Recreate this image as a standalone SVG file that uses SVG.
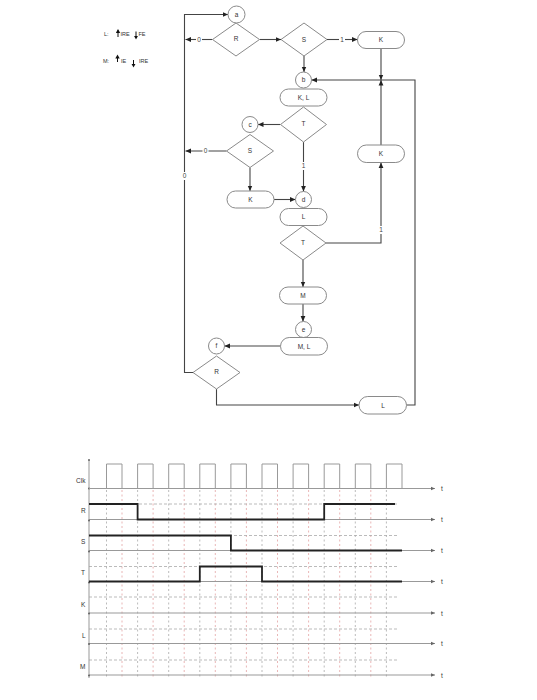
<svg xmlns="http://www.w3.org/2000/svg" width="537" height="700" viewBox="0 0 537 700">
<defs>
<marker id="ar" markerUnits="userSpaceOnUse" markerWidth="6" markerHeight="6" refX="5.5" refY="3" orient="auto"><path d="M0,0.6 L5.5,3 L0,5.4 z" fill="#222"/></marker>
<marker id="ax" markerUnits="userSpaceOnUse" markerWidth="5" markerHeight="5" refX="4" refY="2.5" orient="auto"><path d="M0,0.8 L4,2.5 L0,4.2 z" fill="#666"/></marker>
<marker id="la" markerUnits="userSpaceOnUse" markerWidth="5" markerHeight="5" refX="2.5" refY="2.5" orient="auto"><path d="M0,0.3 L4,2.5 L0,4.7 z" fill="#111"/></marker>
</defs>
<style>
.nd{fill:#fff;stroke:#8a8a8a;stroke-width:1}
.tx{font-family:"Liberation Sans",Arial,sans-serif;font-size:6.5px;fill:#333;text-anchor:middle}
.lg{font-family:"Liberation Sans",Arial,sans-serif;font-size:5.5px;fill:#333}
.cn{fill:none;stroke:#444;stroke-width:1.1}
.lb{font-family:"Liberation Sans",Arial,sans-serif;font-size:6.5px;fill:#444;text-anchor:middle}
.axis{fill:none;stroke:#999;stroke-width:1}
.clk{fill:none;stroke:#999;stroke-width:1}
.sig{fill:none;stroke:#222;stroke-width:1.8}
.hd{fill:none;stroke:#aaa;stroke-width:0.8;stroke-dasharray:3,2}
.vg{stroke:#aaa;stroke-width:0.8;stroke-dasharray:2,2.5}
.vr{stroke:#e3a3a3;stroke-width:0.8;stroke-dasharray:2,2.5}
.tl{font-family:"Liberation Sans",Arial,sans-serif;font-size:6.5px;fill:#333}
</style>
<rect width="537" height="700" fill="#fff"/>

<g id="legend">
<text class="lg" x="104" y="35.5">L:</text>
<line x1="118" y1="37" x2="118" y2="30.5" stroke="#111" stroke-width="1" marker-end="url(#la)"/>
<text class="lg" x="120.5" y="35.5">IRE</text>
<line x1="136" y1="31.5" x2="136" y2="38" stroke="#111" stroke-width="1" marker-end="url(#la)"/>
<text class="lg" x="138.5" y="35.5">FE</text>
<text class="lg" x="103" y="63">M:</text>
<line x1="117.5" y1="62" x2="117.5" y2="56" stroke="#111" stroke-width="1" marker-end="url(#la)"/>
<text class="lg" x="121" y="63">IE</text>
<line x1="133.5" y1="60" x2="133.5" y2="66" stroke="#111" stroke-width="1" marker-end="url(#la)"/>
<text class="lg" x="139" y="63">IRE</text>
</g>

<g id="connectors">
<path class="cn" d="M193,372.5 H184.5 V14.5 H228" marker-end="url(#ar)"/>
<path class="cn" d="M212.5,39.5 H185.5" marker-end="url(#ar)"/>
<path class="cn" d="M259.5,39.5 H281" marker-end="url(#ar)"/>
<path class="cn" d="M327,39.5 H357.5" marker-end="url(#ar)"/>
<path class="cn" d="M304,56 V72" marker-end="url(#ar)"/>
<path class="cn" d="M381,48.5 V80" marker-end="url(#ar)"/>
<path class="cn" d="M381,145 V80" marker-end="url(#ar)"/>
<path class="cn" d="M406.5,405 H415 V80 H311.5" marker-end="url(#ar)"/>
<path class="cn" d="M280.5,124.5 H258" marker-end="url(#ar)"/>
<path class="cn" d="M226.5,151 H185.5" marker-end="url(#ar)"/>
<path class="cn" d="M250,167.5 V191" marker-end="url(#ar)"/>
<path class="cn" d="M274,199.5 H295.5" marker-end="url(#ar)"/>
<path class="cn" d="M303.5,142 V191.5" marker-end="url(#ar)"/>
<path class="cn" d="M326,243 H381 V162.5" marker-end="url(#ar)"/>
<path class="cn" d="M303,260 V287" marker-end="url(#ar)"/>
<path class="cn" d="M303,304 V321.5" marker-end="url(#ar)"/>
<path class="cn" d="M280.5,346 H224.5" marker-end="url(#ar)"/>
<path class="cn" d="M216.5,389 V405 H359" marker-end="url(#ar)"/>
<rect x="196" y="36" width="6" height="7" fill="#fff"/>
<text class="lb" x="199" y="41.8">0</text>
<rect x="339" y="36" width="6" height="7" fill="#fff"/>
<text class="lb" x="342" y="41.8">1</text>
<rect x="202.5" y="147.5" width="6" height="7" fill="#fff"/>
<text class="lb" x="205.5" y="153.3">0</text>
<rect x="181.5" y="172" width="6" height="8" fill="#fff"/>
<text class="lb" x="184.5" y="178.3">0</text>
<rect x="300.5" y="162" width="6" height="8" fill="#fff"/>
<text class="lb" x="303.5" y="168.3">1</text>
<rect x="378" y="226" width="6" height="8" fill="#fff"/>
<text class="lb" x="381" y="232.3">1</text>
</g>

<g id="node-a"><circle class="nd" cx="236.5" cy="14.5" r="8.5"/><text class="tx" x="236.5" y="16.8">a</text></g>
<g id="node-R1"><polygon class="nd" points="212.5,39.5 236,23 259.5,39.5 236,56"/><text class="tx" x="236" y="41">R</text></g>
<g id="node-S1"><polygon class="nd" points="281,39.5 304,23 327,39.5 304,56"/><text class="tx" x="304" y="41.5">S</text></g>
<g id="node-K1"><rect class="nd" x="357.5" y="31.5" width="47" height="17" rx="8.5"/><text class="tx" x="381" y="42.3">K</text></g>
<g id="node-b"><circle class="nd" cx="303.5" cy="80" r="8"/><text class="tx" x="303.5" y="82.3">b</text></g>
<g id="node-KL"><rect class="nd" x="280" y="89" width="47" height="17" rx="8.5"/><text class="tx" x="303.5" y="99.8">K, L</text></g>
<g id="node-T1"><polygon class="nd" points="280.5,124.5 303.5,107 326.5,124.5 303.5,142"/><text class="tx" x="303.5" y="126">T</text></g>
<g id="node-c"><circle class="nd" cx="250" cy="124.5" r="8"/><text class="tx" x="250" y="126.8">c</text></g>
<g id="node-S2"><polygon class="nd" points="226.5,151 250,134.5 273.5,151 250,167.5"/><text class="tx" x="250" y="152.5">S</text></g>
<g id="node-K3"><rect class="nd" x="227" y="191" width="47" height="17" rx="8.5"/><text class="tx" x="250.5" y="201.8">K</text></g>
<g id="node-d"><circle class="nd" cx="303.5" cy="199.5" r="8"/><text class="tx" x="303.5" y="201.8">d</text></g>
<g id="node-L1"><rect class="nd" x="280" y="208.5" width="47" height="17" rx="8.5"/><text class="tx" x="303.5" y="219.3">L</text></g>
<g id="node-T2"><polygon class="nd" points="280,243 303,226 326,243 303,260"/><text class="tx" x="303" y="245">T</text></g>
<g id="node-K2"><rect class="nd" x="357.5" y="145" width="47" height="17.5" rx="8.75"/><text class="tx" x="381" y="156">K</text></g>
<g id="node-M"><rect class="nd" x="279.5" y="287" width="47" height="17" rx="8.5"/><text class="tx" x="303" y="297.8">M</text></g>
<g id="node-e"><circle class="nd" cx="303.5" cy="329.5" r="8"/><text class="tx" x="303.5" y="331.8">e</text></g>
<g id="node-ML"><rect class="nd" x="280.5" y="337.5" width="47" height="17.5" rx="8.75"/><text class="tx" x="304" y="348.5">M, L</text></g>
<g id="node-f"><circle class="nd" cx="216.5" cy="346" r="8"/><text class="tx" x="216.5" y="348.3">f</text></g>
<g id="node-R2"><polygon class="nd" points="193,372.5 216.5,356 240,372.5 216.5,389"/><text class="tx" x="216.5" y="374">R</text></g>
<g id="node-L2"><rect class="nd" x="359" y="396.5" width="47.5" height="17.5" rx="8.75"/><text class="tx" x="383" y="407.5">L</text></g>

<g id="timing">
<g id="grid">
<line class="vg" x1="106.5" y1="490" x2="106.5" y2="678"/>
<line class="vg" x1="137.6" y1="490" x2="137.6" y2="678"/>
<line class="vg" x1="168.7" y1="490" x2="168.7" y2="678"/>
<line class="vg" x1="199.8" y1="490" x2="199.8" y2="678"/>
<line class="vg" x1="230.9" y1="490" x2="230.9" y2="678"/>
<line class="vg" x1="262" y1="490" x2="262" y2="678"/>
<line class="vg" x1="293.1" y1="490" x2="293.1" y2="678"/>
<line class="vg" x1="324.2" y1="490" x2="324.2" y2="678"/>
<line class="vg" x1="355.3" y1="490" x2="355.3" y2="678"/>
<line class="vg" x1="386.4" y1="490" x2="386.4" y2="678"/>
<line class="vr" x1="122" y1="490" x2="122" y2="678"/>
<line class="vr" x1="153.1" y1="490" x2="153.1" y2="678"/>
<line class="vr" x1="184.2" y1="490" x2="184.2" y2="678"/>
<line class="vr" x1="215.3" y1="490" x2="215.3" y2="678"/>
<line class="vr" x1="246.4" y1="490" x2="246.4" y2="678"/>
<line class="vr" x1="277.5" y1="490" x2="277.5" y2="678"/>
<line class="vr" x1="308.6" y1="490" x2="308.6" y2="678"/>
<line class="vr" x1="339.7" y1="490" x2="339.7" y2="678"/>
<line class="vr" x1="370.8" y1="490" x2="370.8" y2="678"/>
<line class="hd" x1="89" y1="504" x2="398" y2="504"/>
<line class="hd" x1="89" y1="535.5" x2="398" y2="535.5"/>
<line class="hd" x1="89" y1="566.5" x2="398" y2="566.5"/>
<line class="hd" x1="89" y1="597" x2="398" y2="597"/>
<line class="hd" x1="89" y1="629" x2="398" y2="629"/>
<line class="hd" x1="89" y1="660" x2="398" y2="660"/>
</g>
<g id="axes">
<line class="axis" x1="89" y1="460" x2="89" y2="678"/>
<line class="axis" x1="89" y1="488.5" x2="435" y2="488.5" marker-end="url(#ax)"/>
<line class="axis" x1="89" y1="519.5" x2="435" y2="519.5" marker-end="url(#ax)"/>
<line class="axis" x1="89" y1="550.5" x2="435" y2="550.5" marker-end="url(#ax)"/>
<line class="axis" x1="89" y1="581.5" x2="435" y2="581.5" marker-end="url(#ax)"/>
<line class="axis" x1="89" y1="613" x2="435" y2="613" marker-end="url(#ax)"/>
<line class="axis" x1="89" y1="643.5" x2="435" y2="643.5" stroke="#666" marker-end="url(#ax)"/>
<line class="axis" x1="89" y1="675" x2="435" y2="675" marker-end="url(#ax)"/>
<g fill="#666">
<circle cx="89" cy="460" r="1"/><circle cx="89" cy="488.5" r="1"/><circle cx="89" cy="520.5" r="1"/><circle cx="89" cy="551.5" r="1"/><circle cx="89" cy="582.5" r="1"/><circle cx="89" cy="613.5" r="1"/><circle cx="89" cy="644" r="1"/><circle cx="89" cy="675.5" r="1"/>
</g>
<text class="tl" x="441" y="491">t</text>
<text class="tl" x="441" y="522">t</text>
<text class="tl" x="441" y="553">t</text>
<text class="tl" x="441" y="584">t</text>
<text class="tl" x="441" y="615.5">t</text>
<text class="tl" x="441" y="646">t</text>
<text class="tl" x="441" y="677.5">t</text>
</g>
<g id="labels">
<text class="tl" x="76" y="482.5">Clk</text>
<text class="tl" x="81" y="513">R</text>
<text class="tl" x="81" y="544">S</text>
<text class="tl" x="81" y="575">T</text>
<text class="tl" x="81" y="607">K</text>
<text class="tl" x="82" y="638">L</text>
<text class="tl" x="80" y="669">M</text>
</g>
<g id="signals">
<path class="clk" d="M89,488.5 H106.5 V464 H122 V488.5 H137.6 V464 H153.1 V488.5 H168.7 V464 H184.2 V488.5 H199.8 V464 H215.3 V488.5 H230.9 V464 H246.4 V488.5 H262 V464 H277.5 V488.5 H293.1 V464 H308.6 V488.5 H324.2 V464 H339.7 V488.5 H355.3 V464 H370.8 V488.5 H386.4 V464 H402 V488.5"/>
<path class="sig" d="M89,504 H137.6 V519.5 H324.2 V504 H395"/>
<path class="sig" d="M89,535.5 H230.9 V550.5 H402"/>
<path class="sig" d="M89,581.5 H199.8 V566.5 H262 V581.5 H402"/>
</g>
</g>
</svg>
